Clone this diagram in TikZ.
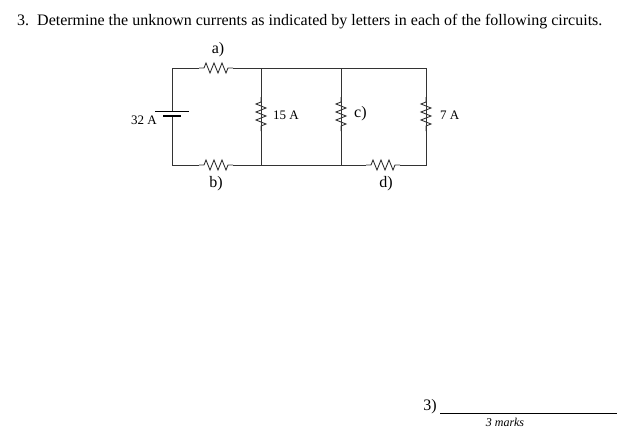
\documentclass[tikz,border=0pt]{standalone}
\usepackage{fontspec}
\setmainfont{Liberation Serif}
\tikzset{
  wire/.style={line width=0.9pt, black!80},
  lbl/.style={font=\fontsize{16}{18}\selectfont, inner sep=0pt},
  small/.style={font=\fontsize{13}{15}\selectfont, inner sep=0pt},
  resH/.pic={\draw[wire] (-17,0) -- (-12,0) -- (-10,-5) -- (-6,5) -- (-2,-5) -- (2,5) -- (6,-5) -- (10,5) -- (12,0) -- (17,0);},
  resV/.pic={\draw[wire] (0,-17) -- (0,-12) -- (-5,-10) -- (5,-6) -- (-5,-2) -- (5,2) -- (-5,6) -- (5,10) -- (0,12) -- (0,17);}
}
\begin{document}
\begin{tikzpicture}[x=1pt,y=-1pt]
\useasboundingbox (0,0) rectangle (627,429);
\node[lbl, anchor=west] (title) at (17,22) {3.\ \ Determine the unknown currents as indicated by letters in each of the following circuits.};
\coordinate (tl) at (172,68); \coordinate (bl) at (172,165);
\coordinate (t1) at (261,68); \coordinate (b1) at (261,165);
\coordinate (t2) at (341,68); \coordinate (b2) at (341,165);
\coordinate (tr) at (426,68); \coordinate (br) at (426,165);
\coordinate (ra) at (216,68); \coordinate (rb) at (216,165); \coordinate (rd) at (383,165);
\coordinate (r1) at (261,114); \coordinate (r2) at (341,114); \coordinate (r3) at (426,114);
\coordinate (bat1) at (172,111); \coordinate (bat2) at (172,116);
\pic at (ra) {resH}; \pic at (rb) {resH}; \pic at (rd) {resH};
\pic at (r1) {resV}; \pic at (r2) {resV}; \pic at (r3) {resV};
\draw[wire] (bat1) -- (tl) -- ([xshift=-17]ra);
\draw[wire] ([xshift=17]ra) -- (tr) -- ([yshift=-17]r3);
\draw[wire] ([yshift=17]r3) -- (br) -- ([xshift=17]rd);
\draw[wire] ([xshift=-17]rd) -- ([xshift=17]rb);
\draw[wire] ([xshift=-17]rb) -- (bl) -- (bat2);
\draw[wire] (t1) -- ([yshift=-17]r1); \draw[wire] ([yshift=17]r1) -- (b1);
\draw[wire] (t2) -- ([yshift=-17]r2); \draw[wire] ([yshift=17]r2) -- (b2);
\draw[line width=0.9pt] (155,111) -- (189,111);
\draw[line width=2.4pt] (163,116) -- (181,116);
\node[lbl] (la) at (218,50) {a)};
\node[lbl] (lb) at (216,184) {b)};
\node[lbl] (ld) at (386,184) {d)};
\node[lbl, anchor=west] (lc) at (354,114) {c)};
\node[small, anchor=west] (l15) at (273,115) {15 A};
\node[small, anchor=west] (l7) at (440,115) {7 A};
\node[small, anchor=east] (l32) at (157,120) {32 A};
\node[lbl] (l3) at (430,407) {3)};
\coordinate (ansA) at (440,413); \coordinate (ansB) at (617,413);
\draw[line width=0.8pt] (ansA) -- (ansB);
\node[small, font=\fontsize{12}{14}\itshape] (marks) at (505,422) {3 marks};
\end{tikzpicture}
\end{document}
